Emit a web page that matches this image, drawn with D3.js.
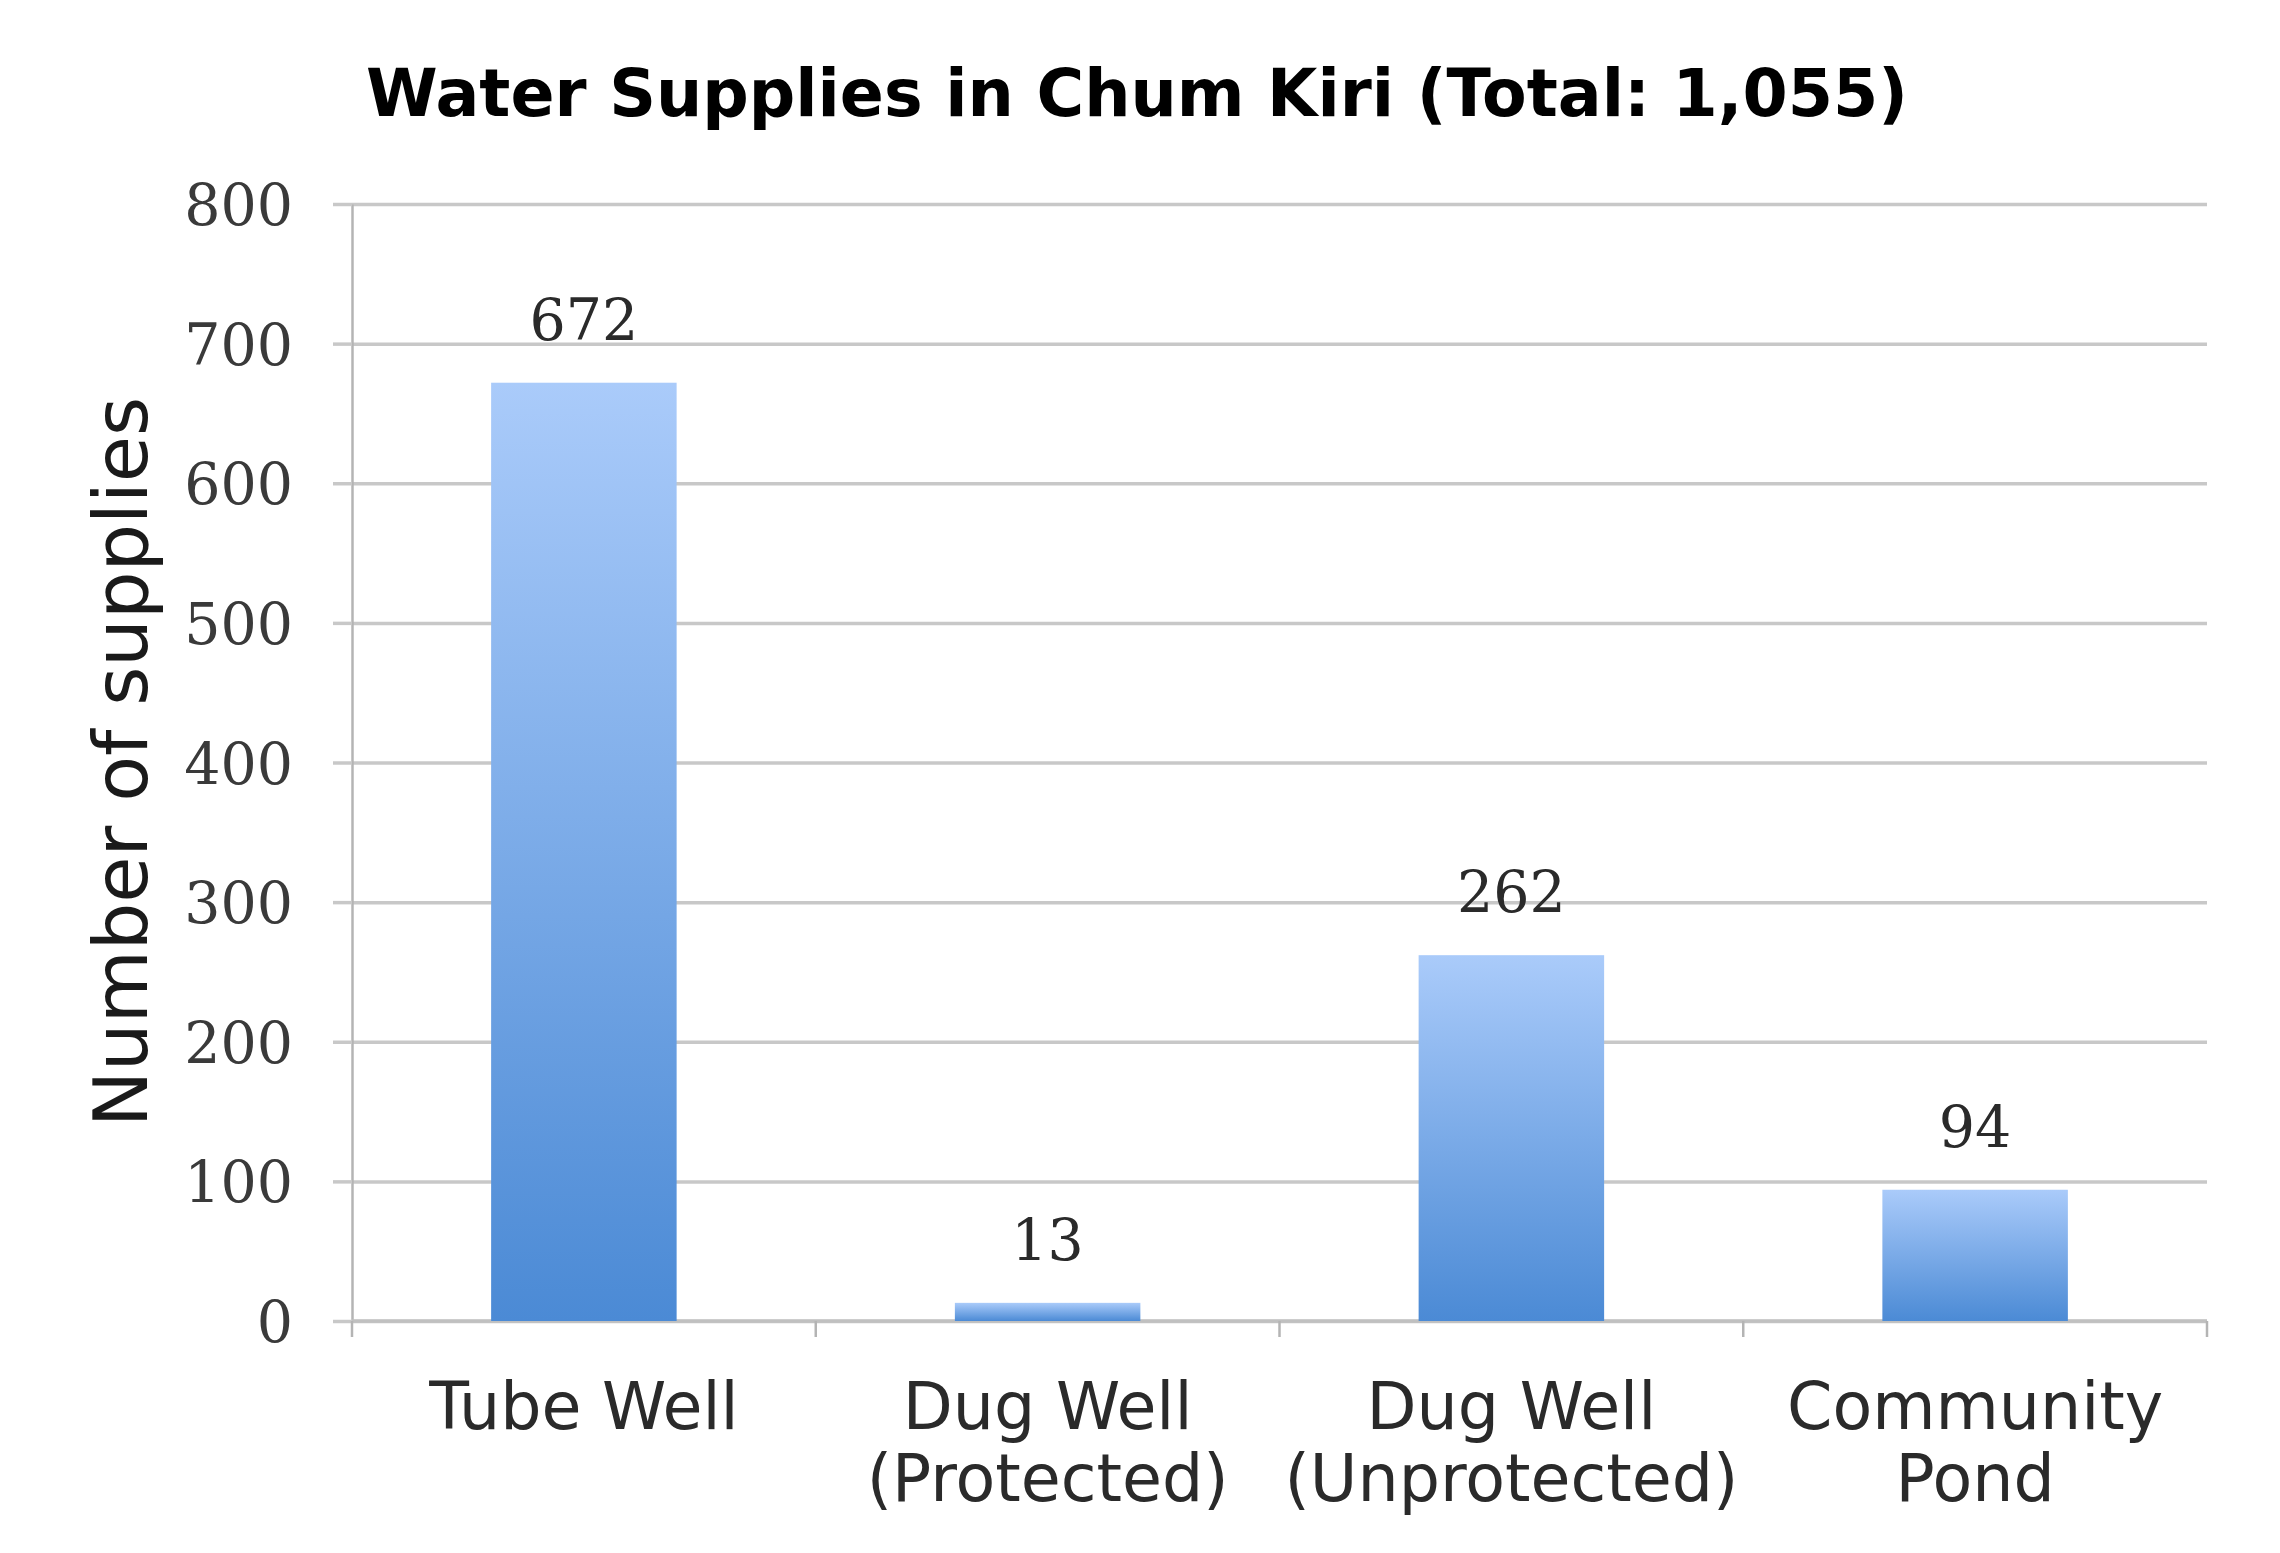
<!DOCTYPE html>
<html>
<head>
<meta charset="utf-8">
<script src="https://cdn.jsdelivr.net/npm/d3@7"></script>
<style>
	body { margin: 0; background: #fff; }
	svg { display: block; }
</style>
</head>
<body>
<svg id="chart" width="2280" height="1553"></svg>
<script>
var categories = [["Tube Well"], ["Dug Well", "(Protected)"], ["Dug Well", "(Unprotected)"], ["Community", "Pond"]];
var supplies = [672, 13, 262, 94];
var yTicks = [0, 100, 200, 300, 400, 500, 600, 700, 800];
var titleText = "Water Supplies in Chum Kiri (Total: 1,055)";
var yLabel = "Number of supplies";

var svg = d3.select("#chart"),
	margin = { top: 204, left: 352, right: 73, bottom: 232 },
	width = +svg.attr("width"),
	height = +svg.attr("height"),
	innerW = width - margin.left - margin.right,
	innerH = height - margin.top - margin.bottom;

var defs = svg.append("defs");
var grad = defs.append("linearGradient")
	.attr("id", "barGrad")
	.attr("x1", 0).attr("y1", 0).attr("x2", 0).attr("y2", 1);
grad.append("stop").attr("offset", "0%").attr("stop-color", "#aacbfa");
grad.append("stop").attr("offset", "100%").attr("stop-color", "#4b8ad5");

var keys = categories.map(function(d) { return d.join(" "); });

// category slots (ticks sit on slot boundaries)
var xSlot = d3.scaleBand().domain(keys).range([0, innerW]).padding(0);
var xBar = d3.scaleBand().domain(keys).range([0, innerW]).paddingInner(0.6).paddingOuter(0.3);
var y = d3.scaleLinear().domain([0, 800]).range([innerH, 0]);

var g = svg.append("g").attr("transform", "translate(" + margin.left + "," + margin.top + ")");

// gridlines
g.append("g")
	.attr("class", "grid")
	.call(d3.axisLeft(y).tickValues(yTicks).tickSize(-innerW).tickSizeOuter(0).tickFormat(""))
	.call(function(s) {
		s.select(".domain").remove();
		s.selectAll("line").attr("stroke", "#c8c8c8").attr("stroke-width", 3.5);
	});

// y axis ticks + labels
g.append("g")
	.call(d3.axisLeft(y).tickValues(yTicks).tickSize(19).tickPadding(40).tickSizeOuter(0))
	.call(function(s) {
		s.select(".domain").attr("stroke", "#b4b4b4").attr("stroke-width", 2.5);
		s.selectAll("line").attr("stroke", "#c8c8c8").attr("stroke-width", 3.5);
		s.selectAll("text")
			.attr("font-family", "DejaVu Serif")
			.attr("font-size", 57)
			.attr("fill", "#3a3a3a")
			.attr("dy", "0.36em");
	});

// bottom axis line with boundary ticks
var bounds = keys.map(function(k) { return xSlot(k); }).concat([innerW]);
var xAxisG = g.append("g").attr("transform", "translate(0," + innerH + ")");
xAxisG.append("line")
	.attr("x1", 0).attr("x2", innerW)
	.attr("stroke", "#c0c0c0").attr("stroke-width", 3.5);
xAxisG.selectAll(".btick").data(bounds).enter().append("line")
	.attr("class", "btick")
	.attr("x1", function(d) { return d; }).attr("x2", function(d) { return d; })
	.attr("y1", 0).attr("y2", 16)
	.attr("stroke", "#b4b4b4").attr("stroke-width", 2.5);

// bars
g.selectAll(".bar").data(supplies).enter().append("rect")
	.attr("class", "bar")
	.attr("x", function(d, i) { return xBar(keys[i]); })
	.attr("width", xBar.bandwidth())
	.attr("y", function(d) { return y(d); })
	.attr("height", function(d) { return innerH - y(d); })
	.attr("fill", "url(#barGrad)");

// value labels
g.selectAll(".val").data(supplies).enter().append("text")
	.attr("class", "val")
	.attr("x", function(d, i) { return xBar(keys[i]) + xBar.bandwidth() / 2; })
	.attr("y", function(d) { return y(d) - 43; })
	.attr("text-anchor", "middle")
	.attr("font-family", "DejaVu Serif")
	.attr("font-size", 57)
	.attr("fill", "#2a2a2a")
	.text(function(d) { return d; });

// category labels
var cat = g.selectAll(".cat").data(categories).enter().append("text")
	.attr("class", "cat")
	.attr("text-anchor", "middle")
	.attr("font-family", "DejaVu Sans")
	.attr("font-size", 65)
	.attr("fill", "#2a2a2a")
	.attr("transform", function(d, i) {
		return "translate(" + (xSlot(keys[i]) + xSlot.bandwidth() / 2) + "," + (innerH + 108) + ")";
	});
cat.selectAll("tspan").data(function(d) { return d; }).enter().append("tspan")
	.attr("x", 0)
	.attr("dy", function(d, i) { return i === 0 ? 0 : 72; })
	.text(function(d) { return d; });

// y axis title
svg.append("text")
	.attr("transform", "translate(147," + 762 + ") rotate(-90)")
	.attr("text-anchor", "middle")
	.attr("font-family", "DejaVu Sans")
	.attr("font-size", 75)
	.attr("fill", "#1a1a1a")
	.text(yLabel);

// chart title
svg.append("text")
	.attr("x", 1137)
	.attr("y", 116)
	.attr("text-anchor", "middle")
	.attr("font-family", "DejaVu Sans")
	.attr("font-weight", "bold")
	.attr("font-size", 65)
	.attr("fill", "#000")
	.text(titleText);
</script>
</body>
</html>
